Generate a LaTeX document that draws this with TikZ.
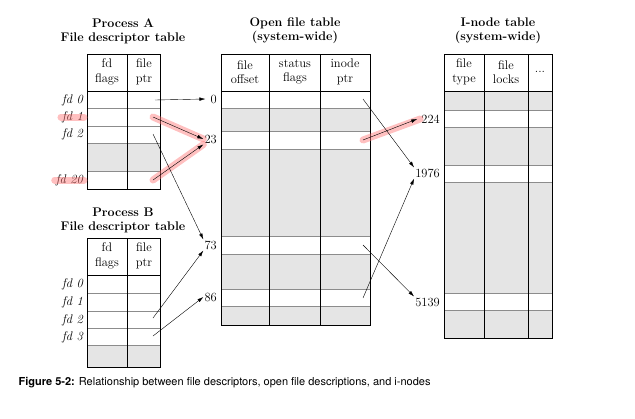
\documentclass[tikz,border=0pt]{standalone}
\usepackage{fontspec}
\newfontfamily\capfont{TeX Gyre Heros}
\usetikzlibrary{positioning,arrows.meta}

\tikzset{
  title/.style={font=\bfseries\fontsize{12.5}{14}\selectfont, align=center},
  head/.style={font=\fontsize{12.5}{14.5}\selectfont, align=center, inner sep=0pt},
  fdlab/.style={font=\fontsize{12.5}{14}\selectfont\itshape, anchor=east, inner sep=1pt},
  numlab/.style={font=\fontsize{12.5}{14}\selectfont, inner sep=1pt},
  ptr/.style={-{Latex[length=6pt,width=3.5pt]}, thin},
  glow/.style={line width=7pt, red!55, opacity=0.45, line cap=round},
  shade/.style={fill=black!10},
}

\begin{document}
\begin{tikzpicture}[x=1pt,y=-1pt]
  \useasboundingbox (0,0) rectangle (635,418);

  % Process A
  \node[title] at (123,31) {Process A\\File descriptor table};
  \fill[shade] (87,143) rectangle (160,171);
  \foreach \y in {108,126,143,171} \draw[black!45] (87,\y) -- (160,\y);
  \draw (127,54) -- (127,189);
  \draw[line width=0.9pt] (87,91) -- (160,91);
  \draw (87,54) rectangle (160,189);
  \node[head] at (107,72) {fd\\flags};
  \node[head] at (144,72) {file\\ptr};
  \node[fdlab] (a0) at (84,100) {fd 0};
  \node[fdlab] (a1) at (84,117) {fd 1};
  \node[fdlab] (a2) at (84,134) {fd 2};
  \node[fdlab] (a20) at (84,180) {fd 20};

  % Process B
  \node[title] at (123,220) {Process B\\File descriptor table};
  \fill[shade] (87,345) rectangle (160,367);
  \foreach \y in {293,311,328,345} \draw[black!45] (87,\y) -- (160,\y);
  \draw (127,238) -- (127,367);
  \draw[line width=0.9pt] (87,275) -- (160,275);
  \draw (87,238) rectangle (160,367);
  \node[head] at (107,256) {fd\\flags};
  \node[head] at (144,256) {file\\ptr};
  \node[fdlab] at (84,284) {fd 0};
  \node[fdlab] at (84,302) {fd 1};
  \node[fdlab] at (84,320) {fd 2};
  \node[fdlab] at (84,337) {fd 3};

  % Open file table
  \node[title] at (295,31) {Open file table\\(system-wide)};
  \fill[shade] (221,108) rectangle (370,131);
  \fill[shade] (221,149) rectangle (370,236);
  \fill[shade] (221,254) rectangle (370,289);
  \fill[shade] (221,306) rectangle (370,325);
  \foreach \y in {108,131,149,236,254,289,306} \draw[black!45] (221,\y) -- (370,\y);
  \draw (269,54) -- (269,325) (320,54) -- (320,325);
  \draw[line width=0.9pt] (221,91) -- (370,91);
  \draw (221,54) rectangle (370,325);
  \node[head] at (245,72) {file\\offset};
  \node[head] at (295,72) {status\\flags};
  \node[head] at (345,72) {inode\\ptr};
  \node[numlab, anchor=east] (o0) at (218,99) {0};
  \node[numlab, anchor=east] (o23) at (218,139) {23};
  \node[numlab, anchor=east] (o73) at (218,245) {73};
  \node[numlab, anchor=east] (o86) at (218,297) {86};

  % I-node table
  \node[title] at (498,31) {I-node table\\(system-wide)};
  \fill[shade] (444,91) rectangle (552,110);
  \fill[shade] (444,127) rectangle (552,165);
  \fill[shade] (444,182) rectangle (552,293);
  \fill[shade] (444,310) rectangle (552,338);
  \foreach \y in {110,127,165,182,293,310} \draw[black!45] (444,\y) -- (552,\y);
  \draw (484,54) -- (484,338) (528,54) -- (528,338);
  \draw[line width=0.9pt] (444,91) -- (552,91);
  \draw (444,54) rectangle (552,338);
  \node[head] at (464,72) {file\\type};
  \node[head] at (506,72) {file\\locks};
  \node[head] at (540,72) {...};
  \node[numlab, anchor=east] (i224) at (441,119) {224};
  \node[numlab, anchor=east] (i1976) at (441,173) {1976};
  \node[numlab, anchor=east] (i5139) at (441,302) {5139};

  % highlights
  \draw[glow] (a1.west) -- (a1.east);
  \draw[glow] (a20.west) -- (a20.east);
  \draw[glow] (153,117) -- (o23.west);
  \draw[glow] (153,180) -- (o23.south west);
  \draw[glow] (363,140) -- (i224.west);

  % pointers
  \coordinate (pa0) at (155,100);
  \coordinate (pa1) at (153,117);
  \coordinate (pa2) at (153,134);
  \coordinate (pa20) at (153,180);
  \coordinate (pb2) at (153,318);
  \coordinate (pb3) at (153,336);
  \coordinate (q0) at (363,99);
  \coordinate (q23) at (363,140);
  \coordinate (q73) at (363,245);
  \coordinate (q86) at (363,298);
  \draw[ptr] (pa0) -- ([xshift=-4pt]o0.west);
  \draw[ptr] (pa1) -- (o23.west);
  \draw[ptr] (pa20) -- (o23.south west);
  \draw[ptr] (pa2) -- (o73.north west);
  \draw[ptr] (pb2) -- (o73.south west);
  \draw[ptr] (pb3) -- (o86.west);
  \draw[ptr] (q0) -- (i1976.north west);
  \draw[ptr] (q23) -- ([xshift=-3pt]i224.west);
  \draw[ptr] (q73) -- (i5139.north west);
  \draw[ptr] (q86) -- (i1976.south west);

  \node[anchor=west, font=\capfont\fontsize{11}{13}\selectfont] at (15,383)
    {\textbf{Figure 5-2:} Relationship between file descriptors, open file descriptions, and i-nodes};
\end{tikzpicture}
\end{document}
